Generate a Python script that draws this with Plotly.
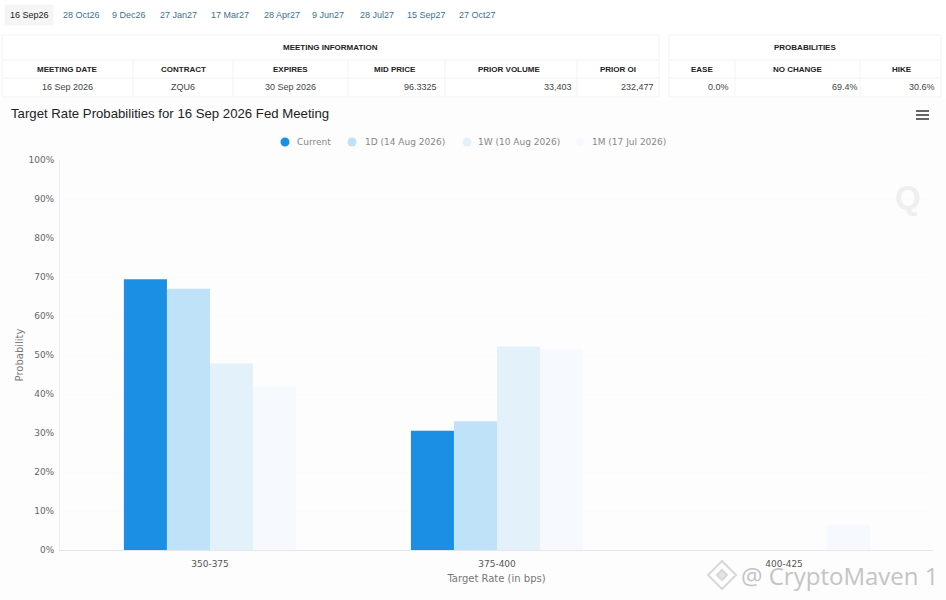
import plotly.graph_objects as go

W = 946
H = 600

# valores do grafico
categorias = ['350-375', '375-400', '400-425']
series_nomes = ['Current', '1D (14 Aug 2026)', '1W (10 Aug 2026)', '1M (17 Jul 2026)']
current = [69.4, 30.6, 0]
um_dia = [67.0, 33.0, 0]
uma_semana = [47.8, 52.2, 0]
um_mes = [42.0, 51.5, 6.5]
series_valores = [current, um_dia, uma_semana, um_mes]
cores = ['#1a8fe3', '#c0e2f9', '#e3f1fb', '#f6faff']

# abas e tabelas
abas = ['16 Sep26', '28 Oct26', '9 Dec26', '27 Jan27', '17 Mar27', '28 Apr27',
        '9 Jun27', '28 Jul27', '15 Sep27', '27 Oct27']
abas_x = [29, 81, 129, 178, 230, 282, 328, 377, 426, 478]
colunas = ['MEETING DATE', 'CONTRACT', 'EXPIRES', 'MID PRICE', 'PRIOR VOLUME', 'PRIOR OI',
           'EASE', 'NO CHANGE', 'HIKE']
colunas_x = [67, 183, 290, 395, 509, 618, 702, 798, 902]
linha = ['16 Sep 2026', 'ZQU6', '30 Sep 2026', '96.3325', '33,403', '232,477',
         '0.0%', '69.4%', '30.6%']
linha_x = [67, 183, 290, 438, 573, 655, 730, 859, 936]
linha_anchor = ['center', 'center', 'center', 'right', 'right', 'right', 'right', 'right', 'right']
divisorias = [133, 233, 348, 445, 577, 735, 860]
legenda_bola_x = [285, 352, 467, 580]
legenda_texto_x = [296, 364, 477, 591]


def px_x(x):
    return x / W


def px_y(y):
    return 1 - y / H


def texto(fig, x, y, t, size=9, color='#333', family='Liberation Sans', anchor='center', bold=False, **kw):
    fig.add_annotation(
        x=px_x(x), y=px_y(y), xref='paper', yref='paper', text=f'<b>{t}</b>' if bold else t,
        showarrow=False, xanchor=anchor, yanchor='middle', borderpad=0,
        font=dict(size=size, color=color, family=family), **kw
    )


def caixa(fig, x0, y0, x1, y1, fill=None, line='#f3f3f3'):
    fig.add_shape(
        type='rect', xref='paper', yref='paper', layer='below',
        x0=px_x(x0), x1=px_x(x1), y0=px_y(y0), y1=px_y(y1),
        fillcolor=fill if fill else 'rgba(0,0,0,0)', line=dict(color=line, width=1)
    )


def traco(fig, x0, y0, x1, y1, color='#f3f3f3', width=1):
    fig.add_shape(
        type='line', xref='paper', yref='paper',
        x0=px_x(x0), x1=px_x(x1), y0=px_y(y0), y1=px_y(y1),
        line=dict(color=color, width=width)
    )


def losango(fig, cx, cy, r, color='#d8d8d8', width=2, fill=None):
    fig.add_shape(
        type='path', xref='paper', yref='paper', line=dict(color=color, width=width),
        fillcolor=fill if fill else 'rgba(0,0,0,0)',
        path=f'M {px_x(cx)} {px_y(cy - r)} L {px_x(cx + r)} {px_y(cy)} L {px_x(cx)} {px_y(cy + r)} '
             f'L {px_x(cx - r)} {px_y(cy)} Z'
    )


fig = go.Figure()

for nome, valores, cor in zip(series_nomes, series_valores, cores):
    fig.add_trace(go.Bar(x=categorias, y=valores, name=nome, marker=dict(color=cor, line_width=0), showlegend=False))

fig.update_layout(
    width=W, height=H,
    margin=dict(l=0, r=0, t=0, b=0),
    paper_bgcolor='white',
    plot_bgcolor='rgba(0,0,0,0)',
    barmode='group', bargap=0.4, bargroupgap=0,
    font=dict(family='DejaVu Sans', size=9, color='#666'),
    xaxis=dict(
        domain=[px_x(60), px_x(933)], range=[-0.5226, 2.519], type='category', automargin=False,
        showgrid=False, showline=True, linecolor='#e4e6ee', ticks='', ticklabelstandoff=5,
        tickfont=dict(size=9, color='#555'),
        title=dict(text='Target Rate (in bps)', font=dict(size=10, color='#777'), standoff=7)
    ),
    yaxis=dict(
        domain=[px_y(550), px_y(160)], range=[0, 100], dtick=10, ticksuffix='%', automargin=False,
        showgrid=True, gridcolor='#fbfbfb', zeroline=False, showline=True, linecolor='#eceef3',
        ticks='', ticklabelstandoff=3, tickfont=dict(size=9, color='#666'),
        title=dict(text='Probability', font=dict(size=10, color='#777'), standoff=2)
    )
)

# fundo do grafico e tabelas
caixa(fig, 0, 99, 946, 600, fill='#fdfdfd', line='#fdfdfd')
caixa(fig, 5, 5, 53, 25, fill='#f5f5f5', line='#f5f5f5')
caixa(fig, 2, 35, 659, 97)
caixa(fig, 669, 35, 941, 97)
traco(fig, 2, 60, 659, 60)
traco(fig, 669, 60, 941, 60)
traco(fig, 2, 78, 659, 78)
traco(fig, 669, 78, 941, 78)
for d in divisorias:
    traco(fig, d, 60, d, 97)

for i, (aba, x) in enumerate(zip(abas, abas_x)):
    texto(fig, x, 15, aba, size=9, color='#222' if i == 0 else '#3f6f8f')

texto(fig, 330.5, 47, 'MEETING INFORMATION', size=8, color='#222', bold=True)
texto(fig, 805, 47, 'PROBABILITIES', size=8, color='#222', bold=True)
for c, x in zip(colunas, colunas_x):
    texto(fig, x, 69, c, size=8, color='#222', bold=True)
for v, x, a in zip(linha, linha_x, linha_anchor):
    texto(fig, x, 87, v, size=9, color='#444', anchor=a)

texto(fig, 10, 113, 'Target Rate Probabilities for 16 Sep 2026 Fed Meeting', size=13.2, color='#222', anchor='left')

# legenda
for nome, cor, bx, tx in zip(series_nomes, cores, legenda_bola_x, legenda_texto_x):
    fig.add_shape(type='circle', xref='paper', yref='paper', line_width=0, fillcolor=cor,
                  x0=px_x(bx - 4.5), x1=px_x(bx + 4.5), y0=px_y(146.5), y1=px_y(137.5))
    texto(fig, tx, 142, nome, size=9, color='#888', family='DejaVu Sans', anchor='left')

# menu
for y in [111, 115, 119]:
    traco(fig, 916, y, 929, y, color='#666', width=2)

# marcas d'agua
texto(fig, 908, 197, 'Q', size=33, color='#efefef', bold=True)
texto(fig, 839, 575, '@ CryptoMaven 1', size=24, color='#c4c4c4', family='Open Sans')
losango(fig, 722, 575, 14)
losango(fig, 722, 575, 5, fill='#e4e4e4')

fig.write_html("out.html", config=dict(displayModeBar=False),
               post_script="document.body.style.margin = '0';")
